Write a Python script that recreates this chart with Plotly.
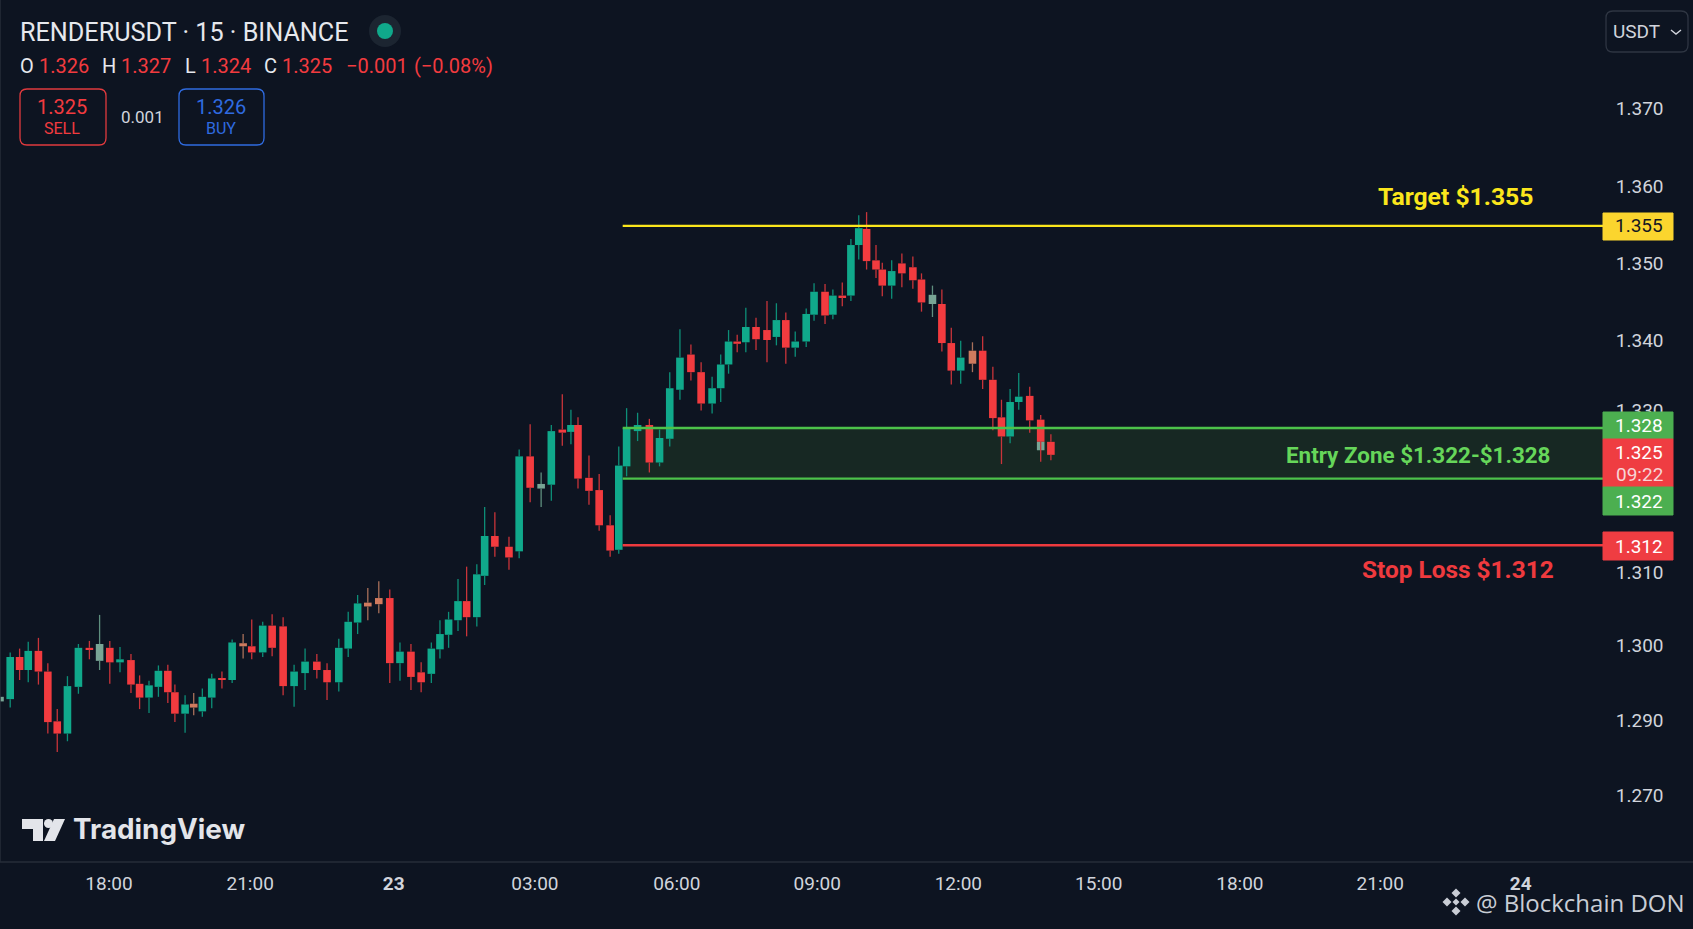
import plotly.graph_objects as go

# minutes after 18:00 on the 22nd
times = [-139, -126, -114, -103, -90, -78, -66, -53, -39, -25,
         -12, 1, 14, 28, 39, 51, 63, 75, 84, 97,
         108, 119, 131, 144, 157, 171, 182, 196, 208, 222,
         236, 250, 265, 278, 293, 305, 317, 330, 344, 358,
         371, 385, 398, 411, 422, 433, 445, 456, 469, 479,
         492, 510, 523, 537, 551, 564, 578, 589, 598, 612,
         625, 639, 650, 660, 674, 689, 702, 715, 728, 742,
         755, 769, 780, 790, 801, 812, 825, 839, 851, 863,
         875, 889, 899, 913, 923, 935, 946, 956, 966, 978,
         986, 998, 1011, 1025, 1036, 1050, 1062, 1074, 1086, 1101,
         1114, 1127, 1138, 1149, 1160, 1174, 1188, 1201, 1188]

opens = [1.2925, 1.2928, 1.2983, 1.2966, 1.2991, 1.2964, 1.2899, 1.2883, 1.2944, 1.2995,
         1.2978, 1.2995, 1.2976, 1.2979, 1.2948, 1.2930, 1.2944, 1.2965, 1.2937, 1.2909,
         1.2922, 1.2912, 1.2930, 1.2955, 1.2953, 1.3001, 1.2997, 1.2989, 1.3024, 1.3023,
         1.2945, 1.2962, 1.2977, 1.2966, 1.2950, 1.2994, 1.3028, 1.3054, 1.3060, 1.3060,
         1.2975, 1.2990, 1.2963, 1.2961, 1.2993, 1.3012, 1.3031, 1.3056, 1.3035, 1.3089,
         1.3141, 1.3127, 1.3121, 1.3245, 1.3203, 1.3208, 1.3280, 1.3277, 1.3286, 1.3217,
         1.3201, 1.3155, 1.3123, 1.3232, 1.3278, 1.3286, 1.3237, 1.3268, 1.3332, 1.3378,
         1.3355, 1.3314, 1.3334, 1.3365, 1.3395, 1.3394, 1.3414, 1.3410, 1.3401, 1.3423,
         1.3387, 1.3395, 1.3430, 1.3460, 1.3430, 1.3455, 1.3455, 1.3521, 1.3542, 1.3501,
         1.3489, 1.3468, 1.3497, 1.3492, 1.3476, 1.3444, 1.3444, 1.3393, 1.3357, 1.3383,
         1.3383, 1.3345, 1.3296, 1.3271, 1.3316, 1.3324, 1.3293, 1.3264, 1.3253]
highs = [1.2931, 1.2989, 1.2994, 1.3003, 1.3008, 1.2975, 1.2915, 1.2958, 1.3000, 1.3004,
         1.3038, 1.3004, 1.2996, 1.2987, 1.2959, 1.2952, 1.2972, 1.2973, 1.2947, 1.2933,
         1.2936, 1.2942, 1.2961, 1.2964, 1.3006, 1.3013, 1.3032, 1.3029, 1.3039, 1.3035,
         1.2973, 1.2994, 1.2987, 1.2975, 1.3007, 1.3042, 1.3064, 1.3073, 1.3082, 1.3071,
         1.3002, 1.3000, 1.2976, 1.3002, 1.3031, 1.3042, 1.3085, 1.3101, 1.3104, 1.3179,
         1.3172, 1.3140, 1.3254, 1.3287, 1.3224, 1.3286, 1.3326, 1.3306, 1.3296, 1.3246,
         1.3222, 1.3168, 1.3258, 1.3308, 1.3302, 1.3294, 1.3280, 1.3355, 1.3411, 1.3391,
         1.3368, 1.3349, 1.3378, 1.3410, 1.3404, 1.3439, 1.3426, 1.3448, 1.3445, 1.3433,
         1.3408, 1.3438, 1.3471, 1.3470, 1.3463, 1.3472, 1.3529, 1.3560, 1.3564, 1.3521,
         1.3498, 1.3501, 1.3510, 1.3506, 1.3484, 1.3468, 1.3463, 1.3413, 1.3396, 1.3394,
         1.3402, 1.3362, 1.3319, 1.3333, 1.3354, 1.3336, 1.3299, 1.3274, 1.3264]
lows = [1.2925, 1.2917, 1.2953, 1.2950, 1.2947, 1.2883, 1.2859, 1.2873, 1.2935, 1.2980,
        1.2966, 1.2948, 1.2963, 1.2936, 1.2915, 1.2910, 1.2931, 1.2923, 1.2898, 1.2884,
        1.2907, 1.2905, 1.2916, 1.2942, 1.2949, 1.2981, 1.2980, 1.2983, 1.2984, 1.2933,
        1.2918, 1.2940, 1.2955, 1.2927, 1.2938, 1.2983, 1.3013, 1.3031, 1.3040, 1.2949,
        1.2952, 1.2940, 1.2937, 1.2949, 1.2981, 1.2995, 1.3017, 1.3010, 1.3023, 1.3077,
        1.3114, 1.3097, 1.3112, 1.3185, 1.3179, 1.3187, 1.3259, 1.3261, 1.3203, 1.3182,
        1.3148, 1.3114, 1.3118, 1.3219, 1.3265, 1.3224, 1.3232, 1.3258, 1.3319, 1.3344,
        1.3305, 1.3301, 1.3316, 1.3353, 1.3381, 1.3381, 1.3384, 1.3368, 1.3390, 1.3366,
        1.3375, 1.3388, 1.3422, 1.3418, 1.3424, 1.3441, 1.3448, 1.3502, 1.3489, 1.3478,
        1.3454, 1.3451, 1.3466, 1.3464, 1.3434, 1.3427, 1.3382, 1.3339, 1.3340, 1.3355,
        1.3333, 1.3279, 1.3235, 1.3262, 1.3306, 1.3276, 1.3238, 1.3240, 1.3253]
closes = [1.2931, 1.2983, 1.2966, 1.2991, 1.2964, 1.2898, 1.2883, 1.2945, 1.2995, 1.2993,
          1.3000, 1.2976, 1.2980, 1.2947, 1.2930, 1.2946, 1.2965, 1.2937, 1.2909, 1.2921,
          1.2917, 1.2931, 1.2955, 1.2953, 1.3002, 1.2997, 1.2989, 1.3024, 1.2995, 1.2945,
          1.2964, 1.2977, 1.2966, 1.2950, 1.2995, 1.3029, 1.3053, 1.3049, 1.3052, 1.2975,
          1.2990, 1.2957, 1.2950, 1.2994, 1.3013, 1.3032, 1.3056, 1.3035, 1.3091, 1.3141,
          1.3127, 1.3113, 1.3245, 1.3204, 1.3209, 1.3278, 1.3276, 1.3286, 1.3216, 1.3200,
          1.3155, 1.3122, 1.3233, 1.3282, 1.3286, 1.3237, 1.3269, 1.3334, 1.3374, 1.3355,
          1.3314, 1.3334, 1.3365, 1.3395, 1.3392, 1.3414, 1.3398, 1.3397, 1.3423, 1.3387,
          1.3395, 1.3431, 1.3460, 1.3429, 1.3455, 1.3453, 1.3521, 1.3543, 1.3500, 1.3489,
          1.3468, 1.3487, 1.3484, 1.3475, 1.3446, 1.3456, 1.3393, 1.3357, 1.3374, 1.3366,
          1.3345, 1.3295, 1.3271, 1.3316, 1.3323, 1.3292, 1.3264, 1.3247, 1.3264]
# candles drawn in washed out colours (grey-green going up, tan going down)
muted = [0, 10, 20, 25, 37, 38, 54, 95, 99, 108]

x_tick_vals = [0, 180, 363, 543, 724, 903, 1083, 1262, 1442, 1621, 1800]
x_tick_text = ["18:00", "21:00", "<b>23</b>", "03:00", "06:00", "09:00", "12:00",
               "15:00", "18:00", "21:00", "<b>24</b>"]
y_tick_vals = [1.3700, 1.3598, 1.3497, 1.3397, 1.3305, 1.3094, 1.2998, 1.2900, 1.2802]
y_tick_text = ["1.370", "1.360", "1.350", "1.340", "1.330", "1.310", "1.300", "1.290", "1.270"]

target_level = 1.3546
entry_top = 1.3282
entry_bottom = 1.3216
stop_level = 1.3129
level_start = 655
level_end = 1905

BG = "#0d1421"
UP = "#10a98b"
DOWN = "#f23b3f"
MUTED_UP = "#78a595"
MUTED_DOWN = "#cf7a5e"
TEXT = "#d1d4dc"
YELLOW = "#fbe61c"
GREEN = "#4caf50"
BLUE = "#2f6be0"

W, H = 1693, 929
PLOT_W, PLOT_H = 1603, 862


def px(v):
    return v / PLOT_W


def py(v):
    return 1 - v / PLOT_H


def rect(x0, y0, x1, y1, fill, line=None):
    return dict(type="rect", xref="paper", yref="paper", x0=px(x0), x1=px(x1), y0=py(y0), y1=py(y1),
                fillcolor=fill, line=dict(color=line or fill, width=1))


def round_box(x0, y0, x1, y1, r, color):
    # rounded outline, corners as quadratic curves
    p = (f"M {px(x0 + r)} {py(y0)} L {px(x1 - r)} {py(y0)} Q {px(x1)} {py(y0)} {px(x1)} {py(y0 + r)} "
         f"L {px(x1)} {py(y1 - r)} Q {px(x1)} {py(y1)} {px(x1 - r)} {py(y1)} "
         f"L {px(x0 + r)} {py(y1)} Q {px(x0)} {py(y1)} {px(x0)} {py(y1 - r)} "
         f"L {px(x0)} {py(y0 + r)} Q {px(x0)} {py(y0)} {px(x0 + r)} {py(y0)} Z")
    return dict(type="path", xref="paper", yref="paper", path=p, line=dict(color=color, width=1.3))


def poly(points, fill):
    p = "M " + " L ".join(f"{px(a)} {py(b)}" for a, b in points) + " Z"
    return dict(type="path", xref="paper", yref="paper", path=p, fillcolor=fill, line=dict(width=0))


def label(x, y, text, size, color, anchor="center", bold=False, font="Roboto"):
    return dict(xref="paper", yref="paper", x=px(x), y=py(y), text=f"<b>{text}</b>" if bold else text,
                showarrow=False, xanchor=anchor, yanchor="middle",
                font=dict(family=font, size=size, color=color))


def body_color(i):
    rising = closes[i] >= opens[i]
    if i in muted:
        return MUTED_UP if rising else MUTED_DOWN
    return UP if rising else DOWN


fig = go.Figure()

# bodies as floating bars, the candlestick trace has no width setting
fig.add_trace(go.Bar(
    x=times,
    base=[min(o, c) for o, c in zip(opens, closes)],
    y=[abs(o - c) for o, c in zip(opens, closes)],
    width=9.7,
    marker=dict(color=[body_color(i) for i in range(len(times))], line=dict(width=0)),
))

# wicks, one trace per colour, broken where the body is
wick_colors = {UP: "#0d8f78", DOWN: "#c9343a", MUTED_UP: "#5f8f7f", MUTED_DOWN: "#a8705a"}
for body, wick in wick_colors.items():
    wx, wy = [], []
    for i, t in enumerate(times):
        if body_color(i) == body:
            wx += [t, t, None, t, t, None]
            wy += [highs[i], max(opens[i], closes[i]), None, min(opens[i], closes[i]), lows[i], None]
    fig.add_trace(go.Scatter(x=wx, y=wy, mode="lines", line=dict(color=wick, width=1.3)))

shapes = [
    dict(type="rect", x0=level_start, x1=level_end, y0=entry_bottom, y1=entry_top, layer="below",
         fillcolor="#172823", line=dict(width=0)),
    dict(type="line", x0=level_start, x1=level_end, y0=target_level, y1=target_level, line=dict(color=YELLOW, width=2.4)),
    dict(type="line", x0=level_start, x1=level_end, y0=entry_top, y1=entry_top, line=dict(color="#4cc24a", width=2.4)),
    dict(type="line", x0=level_start, x1=level_end, y0=entry_bottom, y1=entry_bottom, line=dict(color="#4cc24a", width=2.4)),
    dict(type="line", x0=level_start, x1=level_end, y0=stop_level, y1=stop_level, line=dict(color="#ee3a3e", width=2.4)),
    # axis separator and left edge
    dict(type="line", xref="paper", yref="paper", x0=0, x1=px(W), y0=py(862), y1=py(862), line=dict(color="#262c38", width=1.5)),
    dict(type="line", xref="paper", yref="paper", x0=0, x1=0, y0=0, y1=1, line=dict(color="#262c38", width=1.5)),
    # price tags
    rect(1603, 213, 1673, 240, "#fbd52e"),
    rect(1603, 412, 1673, 439, GREEN),
    rect(1603, 439, 1673, 487, "#ef3d42"),
    rect(1603, 487, 1673, 515, GREEN),
    rect(1603, 532, 1673, 560, "#ef3d42"),
    # header widgets
    round_box(20, 89, 106, 145, 7, "#e03a3e"),
    round_box(179, 89, 264, 145, 7, BLUE),
    round_box(1606, 11, 1688, 52, 7, "#2e3542"),
    dict(type="circle", xref="paper", yref="paper", x0=px(369), x1=px(401), y0=py(15), y1=py(47),
         fillcolor="#1c2531", line=dict(width=0)),
    dict(type="circle", xref="paper", yref="paper", x0=px(377), x1=px(393), y0=py(23), y1=py(39),
         fillcolor=UP, line=dict(width=0)),
    dict(type="path", xref="paper", yref="paper", line=dict(color=TEXT, width=1.4),
         path=f"M {px(1671)} {py(30)} L {px(1676)} {py(34)} L {px(1681)} {py(30)}"),
    # TradingView mark
    poly([(22, 819), (43, 819), (43, 841), (33, 841), (33, 829), (22, 829)], "#e3e5ea"),
    dict(type="circle", xref="paper", yref="paper", x0=px(44), x1=px(53), y0=py(819), y1=py(828),
         fillcolor="#e3e5ea", line=dict(width=0)),
    poly([(54, 819), (65, 819), (55, 841), (44, 841)], "#e3e5ea"),
]
# Binance mark of the watermark
for cx, cy, r in [(1456, 902, 3.5), (1456, 893, 4.5), (1456, 911, 4.5), (1447, 902, 4.5), (1465, 902, 4.5)]:
    shapes.append(poly([(cx, cy - r), (cx + r, cy), (cx, cy + r), (cx - r, cy)], "#c9cdd5"))

annotations = [
    label(18, 32, "RENDERUSDT · 15 · BINANCE", 25.2, "#e6e8ed", "left"),
    label(62, 107, "1.325", 20, DOWN),
    label(62, 128, "SELL", 16, DOWN),
    label(142, 117, "0.001", 17, TEXT),
    label(221, 107, "1.326", 20, BLUE),
    label(221, 128, "BUY", 16, BLUE),
    label(1611, 31, "USDT", 19, TEXT, "left"),
    label(1535, 196, "Target $1.355", 24.7, YELLOW, "right", True),
    label(1552, 455, "Entry Zone $1.322-$1.328", 22.4, "#66d65a", "right", True),
    label(1556, 569, "Stop Loss $1.312", 24.4, "#ee3a3e", "right", True),
    label(1639, 226, "1.355", 19, "#131722"),
    label(1639, 425, "1.328", 19, "#ffffff"),
    label(1639, 452, "1.325", 19, "#ffffff"),
    label(1639, 474, "09:22", 19, "#f6d5d6"),
    label(1639, 501, "1.322", 19, "#ffffff"),
    label(1639, 546, "1.312", 19, "#ffffff"),
    label(71, 829, "TradingView", 27.8, "#e3e5ea", "left", True, "Inter"),
    label(1474, 902, "@ Blockchain DON", 24, "#c9cdd5", "left", False, "Open Sans"),
]
for x, text, color in [(18, "O", "#e6e8ed"), (37, "1.326", DOWN), (100, "H", "#e6e8ed"), (119, "1.327", DOWN),
                       (183, "L", "#e6e8ed"), (199, "1.324", DOWN), (262, "C", "#e6e8ed"), (280, "1.325", DOWN),
                       (344, "−0.001", DOWN), (412, "(−0.08%)", DOWN)]:
    annotations.append(label(x, 66, text, 20, color, "left"))

fig.update_layout(
    width=W, height=H, margin=dict(l=0, r=W - PLOT_W, t=0, b=H - PLOT_H, autoexpand=False),
    paper_bgcolor=BG, plot_bgcolor=BG, showlegend=False, hovermode=False, barmode="overlay",
    shapes=shapes, annotations=annotations,
    xaxis=dict(range=[-139, 1905], showgrid=False, zeroline=False,
               tickmode="array", tickvals=x_tick_vals, ticktext=x_tick_text,
               ticks="outside", ticklen=4, tickcolor=BG,
               tickfont=dict(family="Roboto", size=19, color=TEXT)),
    yaxis=dict(range=[1.27153, 1.38410], side="right", showgrid=False, zeroline=False,
               tickmode="array", tickvals=y_tick_vals, ticktext=y_tick_text,
               ticks="outside", ticklen=8, tickcolor=BG,
               tickfont=dict(family="Roboto", size=19, color=TEXT)),
)

fig.write_html("out.html", config=dict(displayModeBar=False),
               post_script="document.body.style.margin='0';document.body.style.overflow='hidden';")
